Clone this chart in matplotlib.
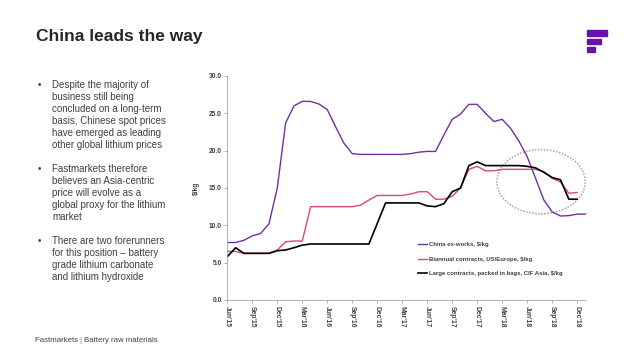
import numpy as np
import matplotlib
matplotlib.use("Agg")
import matplotlib.pyplot as plt
from matplotlib.patches import Ellipse, Rectangle

plt.rcParams["font.family"] = ["Liberation Sans", "DejaVu Sans"]

# monthly series, Jun'15 onwards
china = [7.7, 7.7, 8.0, 8.6, 8.9, 10.2, 15.0, 23.7, 26.0, 26.6, 26.6, 26.25,
         25.5, 23.2, 21.0, 19.6, 19.5, 19.5, 19.5, 19.5, 19.5, 19.5, 19.6, 19.8,
         19.9, 19.9, 22.1, 24.2, 24.9, 26.2, 26.2, 25.0, 23.9, 24.2, 23.0, 21.3,
         19.2, 16.3, 13.4, 11.8, 11.25, 11.3, 11.5, 11.5]
biannual = [6.5, 6.5, 6.25, 6.25, 6.25, 6.25, 6.7, 7.8, 7.9, 7.9, 12.5, 12.5,
            12.5, 12.5, 12.5, 12.5, 12.7, 13.4, 14.0, 14.0, 14.0, 14.0, 14.2, 14.5,
            14.5, 13.5, 13.5, 13.9, 15.0, 17.5, 17.9, 17.3, 17.3, 17.5, 17.5, 17.5,
            17.5, 17.5, 17.2, 16.3, 15.8, 14.3, 14.4]
large = [5.8, 7.0, 6.25, 6.25, 6.25, 6.25, 6.6, 6.7, 7.0, 7.35, 7.5, 7.5,
         7.5, 7.5, 7.5, 7.5, 7.5, 7.5, 10.25, 13.0, 13.0, 13.0, 13.0, 13.0,
         12.6, 12.5, 12.9, 14.5, 15.0, 18.0, 18.5, 18.0, 18.0, 18.0, 18.0, 18.0,
         17.9, 17.7, 17.1, 16.4, 16.1, 13.5, 13.5]
tick_labels = ["Jun'15", "Sep'15", "Dec'15", "Mar'16", "Jun'16", "Sep'16",
               "Dec'16", "Mar'17", "Jun'17", "Sep'17", "Dec'17", "Mar'18",
               "Jun'18", "Sep'18", "Dec'18"]
legend_labels = ["China ex-works, $/kg",
                 "Biannual contracts, US/Europe, $/kg",
                 "Large contracts, packed in bags, CIF Asia, $/kg"]
bullets = [
    "Despite the majority of\nbusiness still being\nconcluded on a long-term\n"
    "basis, Chinese spot prices\nhave emerged as leading\nother global lithium prices",
    "Fastmarkets therefore\nbelieves an Asia-centric\nprice will evolve as a\n"
    "global proxy for the lithium\nmarket",
    "There are two forerunners\nfor this position \u2013 battery\n"
    "grade lithium carbonate\nand lithium hydroxide",
]

W, H = 638, 359
fig = plt.figure(figsize=(W / 100, H / 100), dpi=100)
fig.patch.set_facecolor("white")


def fx(px):
    return px / W


def fy(py):
    return 1 - py / H


# title, logo, footer
fig.text(fx(36), fy(41), "China leads the way", fontsize=12.5, fontweight="bold",
         color="#262626", va="baseline")
purple = "#6a13a8"
for x0, x1, y0, y1 in [(587, 607, 30.5, 35.5), (587, 601, 38.8, 43.5), (587, 595, 46.8, 51.8)]:
    fig.patches.append(Rectangle((fx(x0), fy(y1)), fx(x1) - fx(x0), fy(y0) - fy(y1),
                                 transform=fig.transFigure, color=purple))

renderer = fig.canvas.get_renderer()
xpos = 35
for part, col in [("Fastmarkets ", "#404040"), ("| ", "#8a5cb5"),
                  ("Battery raw materials", "#404040")]:
    t = fig.text(fx(xpos), fy(340), part, fontsize=5.6, color=col, va="center")
    xpos += t.get_window_extent(renderer).width

# bullets
for tops, txt in zip([80.5, 164.5, 236], bullets):
    fig.text(fx(38), fy(tops), "\u2022", fontsize=7, color="#404040", va="top")
    fig.text(fx(52), fy(tops), txt, fontsize=7, color="#404040", va="top",
             linespacing=1.24)

# chart
ax = fig.add_axes([fx(227.3), fy(300), fx(585.5) - fx(227.3), fy(76) - fy(300)])
x_china = np.arange(len(china))
x_bi = np.arange(len(biannual))
x_large = np.arange(len(large))
ax.plot(x_china, china, color="#7030a0", lw=1.0, label=legend_labels[0])
ax.plot(x_bi, biannual, color="#db4a6d", lw=1.0, label=legend_labels[1])
ax.plot(x_large, large, color="black", lw=1.2, label=legend_labels[2])

ax.add_patch(Ellipse((37.66, 15.84), 10.6, 8.6, fill=False, ls=(0, (1, 1)),
                     lw=1.1, color="#a6a6a6"))

ax.set_xlim(0, 43)
ax.set_ylim(0, 30)
ax.set_xticks(np.arange(0, 43, 3))
ax.set_xticklabels(tick_labels, rotation=-90, fontsize=4.9, fontweight="bold",
                   color="#404040")
ax.set_yticks(np.arange(0, 31, 5))
ax.set_yticklabels([f"{v:.1f}" for v in np.arange(0, 31, 5)], fontsize=4.8,
                   fontweight="bold", color="#404040")
ax.tick_params(axis="both", length=2, width=0.6, color="#a6a6a6", pad=2)
ax.set_ylabel("$/kg", fontsize=4.8, fontweight="bold", color="#404040", labelpad=6)
for s in ["top", "right"]:
    ax.spines[s].set_visible(False)
for s in ["left", "bottom"]:
    ax.spines[s].set_color("#a6a6a6")
    ax.spines[s].set_linewidth(0.6)

leg = ax.legend(loc="upper left", bbox_to_anchor=(fx(418), fy(242)),
                bbox_transform=fig.transFigure, frameon=False,
                prop={"size": 4.3, "weight": "bold"}, handlelength=1.5,
                handletextpad=0.3, labelspacing=1.55, borderpad=0, borderaxespad=0)
for t in leg.get_texts():
    t.set_color("#404040")

fig.savefig("out.png", dpi=100)
